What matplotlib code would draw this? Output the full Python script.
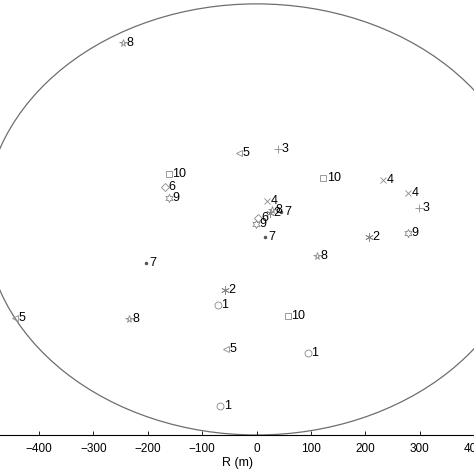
import matplotlib
matplotlib.use("Agg")
import matplotlib.pyplot as plt
from matplotlib.patches import Ellipse

plt.rcParams['font.family'] = ['Liberation Sans', 'DejaVu Sans']

# point positions (m), grouped by label
labels = ['1', '2', '3', '4', '5', '6', '7', '8', '9', '10']
xs = [
    [-71, -67, 94],
    [-58, 206, 24],
    [39, 299],
    [19, 233, 279],
    [-32, -445, -56],
    [-168, 2],
    [-203, 45, 15],
    [-245, -234, 112, 28],
    [-162, 279, -1],
    [-162, 123, 57],
]
ys = [
    [302, 67, 190],
    [336, 459, 515],
    [664, 527],
    [543, 592, 561],
    [654, 271, 200],
    [575, 503],
    [399, 517, 459],
    [909, 269, 415, 522],
    [550, 469, 490],
    [606, 596, 276],
]
# matlab-like symbols: circle, asterisk, plus, cross, triangle, diamond,
# point, pentagram, hexagram, square
markers = ['o', (6, 2, 0), '+', 'x', '<', 'D', '.', '*', (6, 1, 0), 's']
sizes = [5, 6, 6, 5, 5, 4, 3, 5.5, 6, 4]

xticks = [-400, -300, -200, -100, 0, 100, 200, 300, 400]
ring_radius = 500

fig = plt.figure(figsize=(4.74, 4.74), dpi=100)
ax = fig.add_axes([0, 0.0823, 1, 0.9177])

ax.add_patch(Ellipse((0, ring_radius), 2 * ring_radius, 2 * ring_radius,
                     fill=False, edgecolor='#6e6e6e', linewidth=0.9))

for lab, x, y, m, s in zip(labels, xs, ys, markers, sizes):
    if m == '.':
        ax.plot(x, y, linestyle='none', marker=m, ms=s, color='#555555')
    else:
        ax.plot(x, y, linestyle='none', marker=m, ms=s, color='#8a8a8a',
                markerfacecolor='none', markeredgewidth=0.6)
    for xi, yi in zip(x, y):
        ax.annotate(lab, (xi, yi), xytext=(2.5, 0), textcoords='offset points',
                    va='center', ha='left', fontsize=9, color='black')

ax.set_xlim(-472, 396)
ax.set_ylim(0, 1009)
ax.set_xticks(xticks)
ax.set_yticks([])
ax.tick_params(axis='x', direction='in', length=3, width=0.6, pad=6, labelsize=8.5)
ax.set_xlabel('R (m)', fontsize=9, labelpad=1)
for side in ['top', 'left', 'right']:
    ax.spines[side].set_visible(False)
ax.spines['bottom'].set_linewidth(0.8)

fig.savefig('out.png', dpi=100)
